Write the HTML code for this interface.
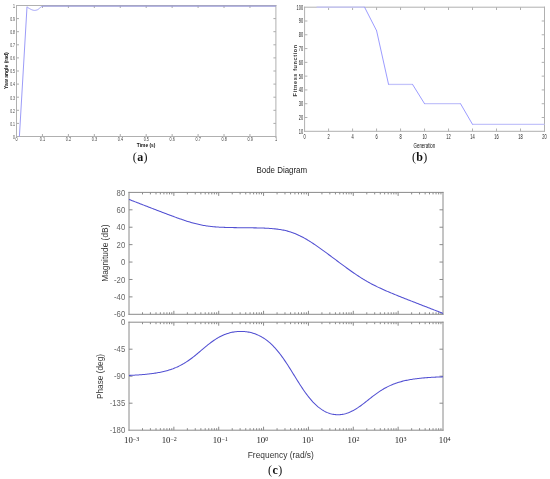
<!DOCTYPE html>
<html><head><meta charset="utf-8"><title>Figure</title>
<style>
html,body{margin:0;padding:0;background:#fff;}
body{width:550px;height:479px;overflow:hidden;}
svg{display:block;}
</style></head>
<body>
<svg width="550" height="479" viewBox="0 0 550 479">
<rect width="550" height="479" fill="#fff"/>
<line x1="16.00" y1="5.50" x2="276.40" y2="5.50" stroke="#b0b0b0" stroke-width="1"/>
<line x1="16.00" y1="136.50" x2="276.40" y2="136.50" stroke="#b0b0b0" stroke-width="1"/>
<line x1="16.50" y1="5.00" x2="16.50" y2="137.00" stroke="#b0b0b0" stroke-width="1"/>
<line x1="275.90" y1="5.00" x2="275.90" y2="137.00" stroke="#b0b0b0" stroke-width="1"/>
<line x1="42.44" y1="136.50" x2="42.44" y2="134.00" stroke="#ababab" stroke-width="1"/>
<line x1="42.44" y1="5.50" x2="42.44" y2="8.00" stroke="#ababab" stroke-width="1"/>
<line x1="16.50" y1="123.40" x2="19.00" y2="123.40" stroke="#ababab" stroke-width="1"/>
<line x1="275.90" y1="123.40" x2="273.40" y2="123.40" stroke="#ababab" stroke-width="1"/>
<line x1="68.38" y1="136.50" x2="68.38" y2="134.00" stroke="#ababab" stroke-width="1"/>
<line x1="68.38" y1="5.50" x2="68.38" y2="8.00" stroke="#ababab" stroke-width="1"/>
<line x1="16.50" y1="110.30" x2="19.00" y2="110.30" stroke="#ababab" stroke-width="1"/>
<line x1="275.90" y1="110.30" x2="273.40" y2="110.30" stroke="#ababab" stroke-width="1"/>
<line x1="94.32" y1="136.50" x2="94.32" y2="134.00" stroke="#ababab" stroke-width="1"/>
<line x1="94.32" y1="5.50" x2="94.32" y2="8.00" stroke="#ababab" stroke-width="1"/>
<line x1="16.50" y1="97.20" x2="19.00" y2="97.20" stroke="#ababab" stroke-width="1"/>
<line x1="275.90" y1="97.20" x2="273.40" y2="97.20" stroke="#ababab" stroke-width="1"/>
<line x1="120.26" y1="136.50" x2="120.26" y2="134.00" stroke="#ababab" stroke-width="1"/>
<line x1="120.26" y1="5.50" x2="120.26" y2="8.00" stroke="#ababab" stroke-width="1"/>
<line x1="16.50" y1="84.10" x2="19.00" y2="84.10" stroke="#ababab" stroke-width="1"/>
<line x1="275.90" y1="84.10" x2="273.40" y2="84.10" stroke="#ababab" stroke-width="1"/>
<line x1="146.20" y1="136.50" x2="146.20" y2="134.00" stroke="#ababab" stroke-width="1"/>
<line x1="146.20" y1="5.50" x2="146.20" y2="8.00" stroke="#ababab" stroke-width="1"/>
<line x1="16.50" y1="71.00" x2="19.00" y2="71.00" stroke="#ababab" stroke-width="1"/>
<line x1="275.90" y1="71.00" x2="273.40" y2="71.00" stroke="#ababab" stroke-width="1"/>
<line x1="172.14" y1="136.50" x2="172.14" y2="134.00" stroke="#ababab" stroke-width="1"/>
<line x1="172.14" y1="5.50" x2="172.14" y2="8.00" stroke="#ababab" stroke-width="1"/>
<line x1="16.50" y1="57.90" x2="19.00" y2="57.90" stroke="#ababab" stroke-width="1"/>
<line x1="275.90" y1="57.90" x2="273.40" y2="57.90" stroke="#ababab" stroke-width="1"/>
<line x1="198.08" y1="136.50" x2="198.08" y2="134.00" stroke="#ababab" stroke-width="1"/>
<line x1="198.08" y1="5.50" x2="198.08" y2="8.00" stroke="#ababab" stroke-width="1"/>
<line x1="16.50" y1="44.80" x2="19.00" y2="44.80" stroke="#ababab" stroke-width="1"/>
<line x1="275.90" y1="44.80" x2="273.40" y2="44.80" stroke="#ababab" stroke-width="1"/>
<line x1="224.02" y1="136.50" x2="224.02" y2="134.00" stroke="#ababab" stroke-width="1"/>
<line x1="224.02" y1="5.50" x2="224.02" y2="8.00" stroke="#ababab" stroke-width="1"/>
<line x1="16.50" y1="31.70" x2="19.00" y2="31.70" stroke="#ababab" stroke-width="1"/>
<line x1="275.90" y1="31.70" x2="273.40" y2="31.70" stroke="#ababab" stroke-width="1"/>
<line x1="249.96" y1="136.50" x2="249.96" y2="134.00" stroke="#ababab" stroke-width="1"/>
<line x1="249.96" y1="5.50" x2="249.96" y2="8.00" stroke="#ababab" stroke-width="1"/>
<line x1="16.50" y1="18.60" x2="19.00" y2="18.60" stroke="#ababab" stroke-width="1"/>
<line x1="275.90" y1="18.60" x2="273.40" y2="18.60" stroke="#ababab" stroke-width="1"/>
<g font-family="Liberation Sans, Arial, sans-serif" font-size="4.5" fill="#444">
<text transform="translate(15.0,138.8) scale(0.78,1)" text-anchor="end">0</text>
<text transform="translate(16.6,140.8) scale(0.85,1)" text-anchor="middle">0</text>
<text transform="translate(15.0,125.7) scale(0.78,1)" text-anchor="end">0.1</text>
<text transform="translate(42.5,140.8) scale(0.85,1)" text-anchor="middle">0.1</text>
<text transform="translate(15.0,112.6) scale(0.78,1)" text-anchor="end">0.2</text>
<text transform="translate(68.5,140.8) scale(0.85,1)" text-anchor="middle">0.2</text>
<text transform="translate(15.0,99.5) scale(0.78,1)" text-anchor="end">0.3</text>
<text transform="translate(94.4,140.8) scale(0.85,1)" text-anchor="middle">0.3</text>
<text transform="translate(15.0,86.4) scale(0.78,1)" text-anchor="end">0.4</text>
<text transform="translate(120.4,140.8) scale(0.85,1)" text-anchor="middle">0.4</text>
<text transform="translate(15.0,73.3) scale(0.78,1)" text-anchor="end">0.5</text>
<text transform="translate(146.3,140.8) scale(0.85,1)" text-anchor="middle">0.5</text>
<text transform="translate(15.0,60.2) scale(0.78,1)" text-anchor="end">0.6</text>
<text transform="translate(172.2,140.8) scale(0.85,1)" text-anchor="middle">0.6</text>
<text transform="translate(15.0,47.1) scale(0.78,1)" text-anchor="end">0.7</text>
<text transform="translate(198.2,140.8) scale(0.85,1)" text-anchor="middle">0.7</text>
<text transform="translate(15.0,34.0) scale(0.78,1)" text-anchor="end">0.8</text>
<text transform="translate(224.1,140.8) scale(0.85,1)" text-anchor="middle">0.8</text>
<text transform="translate(15.0,20.9) scale(0.78,1)" text-anchor="end">0.9</text>
<text transform="translate(250.1,140.8) scale(0.85,1)" text-anchor="middle">0.9</text>
<text transform="translate(15.0,7.8) scale(0.78,1)" text-anchor="end">1</text>
<text transform="translate(276.0,140.8) scale(0.85,1)" text-anchor="middle">1</text>
</g>
<text transform="translate(146.1,147) scale(0.9,1)" font-family="Liberation Sans, Arial, sans-serif" font-weight="bold" font-size="5.4" fill="#111" text-anchor="middle">Time (s)</text>
<text transform="translate(7.9,70.6) rotate(-90) scale(0.93,1)" font-family="Liberation Sans, Arial, sans-serif" font-weight="bold" font-size="5.4" fill="#111" text-anchor="middle">Yaw angle (rad)</text>
<polyline points="19.40,136.50 27.00,6.80 27.11,6.89 27.23,7.01 27.39,7.14 27.56,7.30 27.76,7.47 27.98,7.64 28.23,7.82 28.50,8.00 28.80,8.19 29.15,8.39 29.52,8.61 29.91,8.82 30.32,9.04 30.72,9.25 31.12,9.44 31.50,9.60 31.87,9.75 32.23,9.89 32.59,10.02 32.96,10.14 33.32,10.24 33.68,10.32 34.04,10.37 34.40,10.40 34.77,10.40 35.14,10.37 35.52,10.32 35.89,10.24 36.26,10.15 36.62,10.05 36.97,9.93 37.30,9.80 37.61,9.66 37.91,9.49 38.19,9.31 38.47,9.11 38.74,8.91 38.99,8.70 39.25,8.50 39.50,8.30 39.74,8.10 39.98,7.87 40.21,7.65 40.43,7.42 40.65,7.20 40.87,7.00 41.08,6.83 41.30,6.70 41.53,6.61 41.77,6.55 42.02,6.51 42.26,6.50 42.49,6.50 42.70,6.50 42.87,6.51 43.00,6.50" fill="none" stroke="#9c9cf8" stroke-width="1"/>
<line x1="43" y1="6.1" x2="275.90" y2="6.1" stroke="#9c9cd8" stroke-width="1.2"/>
<line x1="304.10" y1="7.20" x2="545.00" y2="7.20" stroke="#b0b0b0" stroke-width="1"/>
<line x1="304.10" y1="131.30" x2="545.00" y2="131.30" stroke="#b0b0b0" stroke-width="1"/>
<line x1="304.60" y1="6.70" x2="304.60" y2="131.80" stroke="#b0b0b0" stroke-width="1"/>
<line x1="544.50" y1="6.70" x2="544.50" y2="131.80" stroke="#b0b0b0" stroke-width="1"/>
<line x1="328.59" y1="131.30" x2="328.59" y2="128.50" stroke="#b0b0b0" stroke-width="1"/>
<line x1="328.59" y1="7.20" x2="328.59" y2="10.00" stroke="#b0b0b0" stroke-width="1"/>
<line x1="352.58" y1="131.30" x2="352.58" y2="128.50" stroke="#b0b0b0" stroke-width="1"/>
<line x1="352.58" y1="7.20" x2="352.58" y2="10.00" stroke="#b0b0b0" stroke-width="1"/>
<line x1="376.57" y1="131.30" x2="376.57" y2="128.50" stroke="#b0b0b0" stroke-width="1"/>
<line x1="376.57" y1="7.20" x2="376.57" y2="10.00" stroke="#b0b0b0" stroke-width="1"/>
<line x1="400.56" y1="131.30" x2="400.56" y2="128.50" stroke="#b0b0b0" stroke-width="1"/>
<line x1="400.56" y1="7.20" x2="400.56" y2="10.00" stroke="#b0b0b0" stroke-width="1"/>
<line x1="424.55" y1="131.30" x2="424.55" y2="128.50" stroke="#b0b0b0" stroke-width="1"/>
<line x1="424.55" y1="7.20" x2="424.55" y2="10.00" stroke="#b0b0b0" stroke-width="1"/>
<line x1="448.54" y1="131.30" x2="448.54" y2="128.50" stroke="#b0b0b0" stroke-width="1"/>
<line x1="448.54" y1="7.20" x2="448.54" y2="10.00" stroke="#b0b0b0" stroke-width="1"/>
<line x1="472.53" y1="131.30" x2="472.53" y2="128.50" stroke="#b0b0b0" stroke-width="1"/>
<line x1="472.53" y1="7.20" x2="472.53" y2="10.00" stroke="#b0b0b0" stroke-width="1"/>
<line x1="496.52" y1="131.30" x2="496.52" y2="128.50" stroke="#b0b0b0" stroke-width="1"/>
<line x1="496.52" y1="7.20" x2="496.52" y2="10.00" stroke="#b0b0b0" stroke-width="1"/>
<line x1="520.51" y1="131.30" x2="520.51" y2="128.50" stroke="#b0b0b0" stroke-width="1"/>
<line x1="520.51" y1="7.20" x2="520.51" y2="10.00" stroke="#b0b0b0" stroke-width="1"/>
<line x1="304.60" y1="117.51" x2="307.40" y2="117.51" stroke="#b0b0b0" stroke-width="1"/>
<line x1="544.50" y1="117.51" x2="541.70" y2="117.51" stroke="#b0b0b0" stroke-width="1"/>
<line x1="304.60" y1="103.72" x2="307.40" y2="103.72" stroke="#b0b0b0" stroke-width="1"/>
<line x1="544.50" y1="103.72" x2="541.70" y2="103.72" stroke="#b0b0b0" stroke-width="1"/>
<line x1="304.60" y1="89.93" x2="307.40" y2="89.93" stroke="#b0b0b0" stroke-width="1"/>
<line x1="544.50" y1="89.93" x2="541.70" y2="89.93" stroke="#b0b0b0" stroke-width="1"/>
<line x1="304.60" y1="76.14" x2="307.40" y2="76.14" stroke="#b0b0b0" stroke-width="1"/>
<line x1="544.50" y1="76.14" x2="541.70" y2="76.14" stroke="#b0b0b0" stroke-width="1"/>
<line x1="304.60" y1="62.36" x2="307.40" y2="62.36" stroke="#b0b0b0" stroke-width="1"/>
<line x1="544.50" y1="62.36" x2="541.70" y2="62.36" stroke="#b0b0b0" stroke-width="1"/>
<line x1="304.60" y1="48.57" x2="307.40" y2="48.57" stroke="#b0b0b0" stroke-width="1"/>
<line x1="544.50" y1="48.57" x2="541.70" y2="48.57" stroke="#b0b0b0" stroke-width="1"/>
<line x1="304.60" y1="34.78" x2="307.40" y2="34.78" stroke="#b0b0b0" stroke-width="1"/>
<line x1="544.50" y1="34.78" x2="541.70" y2="34.78" stroke="#b0b0b0" stroke-width="1"/>
<line x1="304.60" y1="20.99" x2="307.40" y2="20.99" stroke="#b0b0b0" stroke-width="1"/>
<line x1="544.50" y1="20.99" x2="541.70" y2="20.99" stroke="#b0b0b0" stroke-width="1"/>
<g font-family="Liberation Sans, Arial, sans-serif" font-size="6.6" fill="#222">
<text transform="translate(303.2,133.7) scale(0.6,1)" text-anchor="end">10</text>
<text transform="translate(303.2,119.9) scale(0.6,1)" text-anchor="end">20</text>
<text transform="translate(303.2,106.1) scale(0.6,1)" text-anchor="end">30</text>
<text transform="translate(303.2,92.3) scale(0.6,1)" text-anchor="end">40</text>
<text transform="translate(303.2,78.5) scale(0.6,1)" text-anchor="end">50</text>
<text transform="translate(303.2,64.8) scale(0.6,1)" text-anchor="end">60</text>
<text transform="translate(303.2,51.0) scale(0.6,1)" text-anchor="end">70</text>
<text transform="translate(303.2,37.2) scale(0.6,1)" text-anchor="end">80</text>
<text transform="translate(303.2,23.4) scale(0.6,1)" text-anchor="end">90</text>
<text transform="translate(303.2,9.6) scale(0.6,1)" text-anchor="end">100</text>
<text transform="translate(304.6,138.7) scale(0.6,1)" text-anchor="middle">0</text>
<text transform="translate(328.6,138.7) scale(0.6,1)" text-anchor="middle">2</text>
<text transform="translate(352.6,138.7) scale(0.6,1)" text-anchor="middle">4</text>
<text transform="translate(376.6,138.7) scale(0.6,1)" text-anchor="middle">6</text>
<text transform="translate(400.6,138.7) scale(0.6,1)" text-anchor="middle">8</text>
<text transform="translate(424.6,138.7) scale(0.6,1)" text-anchor="middle">10</text>
<text transform="translate(448.5,138.7) scale(0.6,1)" text-anchor="middle">12</text>
<text transform="translate(472.5,138.7) scale(0.6,1)" text-anchor="middle">14</text>
<text transform="translate(496.5,138.7) scale(0.6,1)" text-anchor="middle">16</text>
<text transform="translate(520.5,138.7) scale(0.6,1)" text-anchor="middle">18</text>
<text transform="translate(544.5,138.7) scale(0.6,1)" text-anchor="middle">20</text>
</g>
<text transform="translate(424.4,147.7) scale(0.555,1)" font-family="Liberation Sans, Arial, sans-serif" font-size="7.9" fill="#111" text-anchor="middle">Generation</text>
<text transform="translate(296.7,70.4) rotate(-90)" font-family="Liberation Sans, Arial, sans-serif" font-weight="bold" font-size="5.6" fill="#333" text-anchor="middle" letter-spacing="0.55">Fitness function</text>
<line x1="316.60" y1="7.20" x2="364.58" y2="7.20" stroke="#c4c4fa" stroke-width="1.3"/>
<line x1="388.56" y1="84.42" x2="412.56" y2="84.42" stroke="#c4c4fa" stroke-width="1.3"/>
<line x1="424.55" y1="103.72" x2="460.54" y2="103.72" stroke="#c4c4fa" stroke-width="1.3"/>
<line x1="472.53" y1="124.41" x2="544.50" y2="124.41" stroke="#c4c4fa" stroke-width="1.3"/>
<line x1="364.58" y1="7.20" x2="376.57" y2="30.64" stroke="#9c9cff" stroke-width="1" stroke-linecap="round"/>
<line x1="376.57" y1="30.64" x2="388.56" y2="84.42" stroke="#9c9cff" stroke-width="1" stroke-linecap="round"/>
<line x1="412.56" y1="84.42" x2="424.55" y2="103.72" stroke="#9c9cff" stroke-width="1" stroke-linecap="round"/>
<line x1="460.54" y1="103.72" x2="472.53" y2="124.41" stroke="#9c9cff" stroke-width="1" stroke-linecap="round"/>
<line x1="128.50" y1="192.40" x2="443.50" y2="192.40" stroke="#8a8a8a" stroke-width="1"/>
<line x1="128.50" y1="314.30" x2="443.50" y2="314.30" stroke="#8a8a8a" stroke-width="1"/>
<line x1="129.00" y1="191.90" x2="129.00" y2="314.80" stroke="#8a8a8a" stroke-width="1"/>
<line x1="443.00" y1="191.90" x2="443.00" y2="314.80" stroke="#8a8a8a" stroke-width="1"/>
<line x1="142.50" y1="314.30" x2="142.50" y2="312.30" stroke="#8a8a8a" stroke-width="1"/>
<line x1="142.50" y1="192.40" x2="142.50" y2="194.40" stroke="#8a8a8a" stroke-width="1"/>
<line x1="150.40" y1="314.30" x2="150.40" y2="312.30" stroke="#8a8a8a" stroke-width="1"/>
<line x1="150.40" y1="192.40" x2="150.40" y2="194.40" stroke="#8a8a8a" stroke-width="1"/>
<line x1="156.01" y1="314.30" x2="156.01" y2="312.30" stroke="#8a8a8a" stroke-width="1"/>
<line x1="156.01" y1="192.40" x2="156.01" y2="194.40" stroke="#8a8a8a" stroke-width="1"/>
<line x1="160.35" y1="314.30" x2="160.35" y2="312.30" stroke="#8a8a8a" stroke-width="1"/>
<line x1="160.35" y1="192.40" x2="160.35" y2="194.40" stroke="#8a8a8a" stroke-width="1"/>
<line x1="163.91" y1="314.30" x2="163.91" y2="312.30" stroke="#8a8a8a" stroke-width="1"/>
<line x1="163.91" y1="192.40" x2="163.91" y2="194.40" stroke="#8a8a8a" stroke-width="1"/>
<line x1="166.91" y1="314.30" x2="166.91" y2="312.30" stroke="#8a8a8a" stroke-width="1"/>
<line x1="166.91" y1="192.40" x2="166.91" y2="194.40" stroke="#8a8a8a" stroke-width="1"/>
<line x1="169.51" y1="314.30" x2="169.51" y2="312.30" stroke="#8a8a8a" stroke-width="1"/>
<line x1="169.51" y1="192.40" x2="169.51" y2="194.40" stroke="#8a8a8a" stroke-width="1"/>
<line x1="171.80" y1="314.30" x2="171.80" y2="312.30" stroke="#8a8a8a" stroke-width="1"/>
<line x1="171.80" y1="192.40" x2="171.80" y2="194.40" stroke="#8a8a8a" stroke-width="1"/>
<line x1="173.86" y1="314.30" x2="173.86" y2="310.80" stroke="#8a8a8a" stroke-width="1"/>
<line x1="173.86" y1="192.40" x2="173.86" y2="195.90" stroke="#8a8a8a" stroke-width="1"/>
<line x1="187.36" y1="314.30" x2="187.36" y2="312.30" stroke="#8a8a8a" stroke-width="1"/>
<line x1="187.36" y1="192.40" x2="187.36" y2="194.40" stroke="#8a8a8a" stroke-width="1"/>
<line x1="195.26" y1="314.30" x2="195.26" y2="312.30" stroke="#8a8a8a" stroke-width="1"/>
<line x1="195.26" y1="192.40" x2="195.26" y2="194.40" stroke="#8a8a8a" stroke-width="1"/>
<line x1="200.86" y1="314.30" x2="200.86" y2="312.30" stroke="#8a8a8a" stroke-width="1"/>
<line x1="200.86" y1="192.40" x2="200.86" y2="194.40" stroke="#8a8a8a" stroke-width="1"/>
<line x1="205.21" y1="314.30" x2="205.21" y2="312.30" stroke="#8a8a8a" stroke-width="1"/>
<line x1="205.21" y1="192.40" x2="205.21" y2="194.40" stroke="#8a8a8a" stroke-width="1"/>
<line x1="208.76" y1="314.30" x2="208.76" y2="312.30" stroke="#8a8a8a" stroke-width="1"/>
<line x1="208.76" y1="192.40" x2="208.76" y2="194.40" stroke="#8a8a8a" stroke-width="1"/>
<line x1="211.77" y1="314.30" x2="211.77" y2="312.30" stroke="#8a8a8a" stroke-width="1"/>
<line x1="211.77" y1="192.40" x2="211.77" y2="194.40" stroke="#8a8a8a" stroke-width="1"/>
<line x1="214.37" y1="314.30" x2="214.37" y2="312.30" stroke="#8a8a8a" stroke-width="1"/>
<line x1="214.37" y1="192.40" x2="214.37" y2="194.40" stroke="#8a8a8a" stroke-width="1"/>
<line x1="216.66" y1="314.30" x2="216.66" y2="312.30" stroke="#8a8a8a" stroke-width="1"/>
<line x1="216.66" y1="192.40" x2="216.66" y2="194.40" stroke="#8a8a8a" stroke-width="1"/>
<line x1="218.71" y1="314.30" x2="218.71" y2="310.80" stroke="#8a8a8a" stroke-width="1"/>
<line x1="218.71" y1="192.40" x2="218.71" y2="195.90" stroke="#8a8a8a" stroke-width="1"/>
<line x1="232.22" y1="314.30" x2="232.22" y2="312.30" stroke="#8a8a8a" stroke-width="1"/>
<line x1="232.22" y1="192.40" x2="232.22" y2="194.40" stroke="#8a8a8a" stroke-width="1"/>
<line x1="240.12" y1="314.30" x2="240.12" y2="312.30" stroke="#8a8a8a" stroke-width="1"/>
<line x1="240.12" y1="192.40" x2="240.12" y2="194.40" stroke="#8a8a8a" stroke-width="1"/>
<line x1="245.72" y1="314.30" x2="245.72" y2="312.30" stroke="#8a8a8a" stroke-width="1"/>
<line x1="245.72" y1="192.40" x2="245.72" y2="194.40" stroke="#8a8a8a" stroke-width="1"/>
<line x1="250.07" y1="314.30" x2="250.07" y2="312.30" stroke="#8a8a8a" stroke-width="1"/>
<line x1="250.07" y1="192.40" x2="250.07" y2="194.40" stroke="#8a8a8a" stroke-width="1"/>
<line x1="253.62" y1="314.30" x2="253.62" y2="312.30" stroke="#8a8a8a" stroke-width="1"/>
<line x1="253.62" y1="192.40" x2="253.62" y2="194.40" stroke="#8a8a8a" stroke-width="1"/>
<line x1="256.62" y1="314.30" x2="256.62" y2="312.30" stroke="#8a8a8a" stroke-width="1"/>
<line x1="256.62" y1="192.40" x2="256.62" y2="194.40" stroke="#8a8a8a" stroke-width="1"/>
<line x1="259.22" y1="314.30" x2="259.22" y2="312.30" stroke="#8a8a8a" stroke-width="1"/>
<line x1="259.22" y1="192.40" x2="259.22" y2="194.40" stroke="#8a8a8a" stroke-width="1"/>
<line x1="261.52" y1="314.30" x2="261.52" y2="312.30" stroke="#8a8a8a" stroke-width="1"/>
<line x1="261.52" y1="192.40" x2="261.52" y2="194.40" stroke="#8a8a8a" stroke-width="1"/>
<line x1="263.57" y1="314.30" x2="263.57" y2="310.80" stroke="#8a8a8a" stroke-width="1"/>
<line x1="263.57" y1="192.40" x2="263.57" y2="195.90" stroke="#8a8a8a" stroke-width="1"/>
<line x1="277.07" y1="314.30" x2="277.07" y2="312.30" stroke="#8a8a8a" stroke-width="1"/>
<line x1="277.07" y1="192.40" x2="277.07" y2="194.40" stroke="#8a8a8a" stroke-width="1"/>
<line x1="284.97" y1="314.30" x2="284.97" y2="312.30" stroke="#8a8a8a" stroke-width="1"/>
<line x1="284.97" y1="192.40" x2="284.97" y2="194.40" stroke="#8a8a8a" stroke-width="1"/>
<line x1="290.58" y1="314.30" x2="290.58" y2="312.30" stroke="#8a8a8a" stroke-width="1"/>
<line x1="290.58" y1="192.40" x2="290.58" y2="194.40" stroke="#8a8a8a" stroke-width="1"/>
<line x1="294.93" y1="314.30" x2="294.93" y2="312.30" stroke="#8a8a8a" stroke-width="1"/>
<line x1="294.93" y1="192.40" x2="294.93" y2="194.40" stroke="#8a8a8a" stroke-width="1"/>
<line x1="298.48" y1="314.30" x2="298.48" y2="312.30" stroke="#8a8a8a" stroke-width="1"/>
<line x1="298.48" y1="192.40" x2="298.48" y2="194.40" stroke="#8a8a8a" stroke-width="1"/>
<line x1="301.48" y1="314.30" x2="301.48" y2="312.30" stroke="#8a8a8a" stroke-width="1"/>
<line x1="301.48" y1="192.40" x2="301.48" y2="194.40" stroke="#8a8a8a" stroke-width="1"/>
<line x1="304.08" y1="314.30" x2="304.08" y2="312.30" stroke="#8a8a8a" stroke-width="1"/>
<line x1="304.08" y1="192.40" x2="304.08" y2="194.40" stroke="#8a8a8a" stroke-width="1"/>
<line x1="306.38" y1="314.30" x2="306.38" y2="312.30" stroke="#8a8a8a" stroke-width="1"/>
<line x1="306.38" y1="192.40" x2="306.38" y2="194.40" stroke="#8a8a8a" stroke-width="1"/>
<line x1="308.43" y1="314.30" x2="308.43" y2="310.80" stroke="#8a8a8a" stroke-width="1"/>
<line x1="308.43" y1="192.40" x2="308.43" y2="195.90" stroke="#8a8a8a" stroke-width="1"/>
<line x1="321.93" y1="314.30" x2="321.93" y2="312.30" stroke="#8a8a8a" stroke-width="1"/>
<line x1="321.93" y1="192.40" x2="321.93" y2="194.40" stroke="#8a8a8a" stroke-width="1"/>
<line x1="329.83" y1="314.30" x2="329.83" y2="312.30" stroke="#8a8a8a" stroke-width="1"/>
<line x1="329.83" y1="192.40" x2="329.83" y2="194.40" stroke="#8a8a8a" stroke-width="1"/>
<line x1="335.44" y1="314.30" x2="335.44" y2="312.30" stroke="#8a8a8a" stroke-width="1"/>
<line x1="335.44" y1="192.40" x2="335.44" y2="194.40" stroke="#8a8a8a" stroke-width="1"/>
<line x1="339.78" y1="314.30" x2="339.78" y2="312.30" stroke="#8a8a8a" stroke-width="1"/>
<line x1="339.78" y1="192.40" x2="339.78" y2="194.40" stroke="#8a8a8a" stroke-width="1"/>
<line x1="343.33" y1="314.30" x2="343.33" y2="312.30" stroke="#8a8a8a" stroke-width="1"/>
<line x1="343.33" y1="192.40" x2="343.33" y2="194.40" stroke="#8a8a8a" stroke-width="1"/>
<line x1="346.34" y1="314.30" x2="346.34" y2="312.30" stroke="#8a8a8a" stroke-width="1"/>
<line x1="346.34" y1="192.40" x2="346.34" y2="194.40" stroke="#8a8a8a" stroke-width="1"/>
<line x1="348.94" y1="314.30" x2="348.94" y2="312.30" stroke="#8a8a8a" stroke-width="1"/>
<line x1="348.94" y1="192.40" x2="348.94" y2="194.40" stroke="#8a8a8a" stroke-width="1"/>
<line x1="351.23" y1="314.30" x2="351.23" y2="312.30" stroke="#8a8a8a" stroke-width="1"/>
<line x1="351.23" y1="192.40" x2="351.23" y2="194.40" stroke="#8a8a8a" stroke-width="1"/>
<line x1="353.29" y1="314.30" x2="353.29" y2="310.80" stroke="#8a8a8a" stroke-width="1"/>
<line x1="353.29" y1="192.40" x2="353.29" y2="195.90" stroke="#8a8a8a" stroke-width="1"/>
<line x1="366.79" y1="314.30" x2="366.79" y2="312.30" stroke="#8a8a8a" stroke-width="1"/>
<line x1="366.79" y1="192.40" x2="366.79" y2="194.40" stroke="#8a8a8a" stroke-width="1"/>
<line x1="374.69" y1="314.30" x2="374.69" y2="312.30" stroke="#8a8a8a" stroke-width="1"/>
<line x1="374.69" y1="192.40" x2="374.69" y2="194.40" stroke="#8a8a8a" stroke-width="1"/>
<line x1="380.29" y1="314.30" x2="380.29" y2="312.30" stroke="#8a8a8a" stroke-width="1"/>
<line x1="380.29" y1="192.40" x2="380.29" y2="194.40" stroke="#8a8a8a" stroke-width="1"/>
<line x1="384.64" y1="314.30" x2="384.64" y2="312.30" stroke="#8a8a8a" stroke-width="1"/>
<line x1="384.64" y1="192.40" x2="384.64" y2="194.40" stroke="#8a8a8a" stroke-width="1"/>
<line x1="388.19" y1="314.30" x2="388.19" y2="312.30" stroke="#8a8a8a" stroke-width="1"/>
<line x1="388.19" y1="192.40" x2="388.19" y2="194.40" stroke="#8a8a8a" stroke-width="1"/>
<line x1="391.19" y1="314.30" x2="391.19" y2="312.30" stroke="#8a8a8a" stroke-width="1"/>
<line x1="391.19" y1="192.40" x2="391.19" y2="194.40" stroke="#8a8a8a" stroke-width="1"/>
<line x1="393.80" y1="314.30" x2="393.80" y2="312.30" stroke="#8a8a8a" stroke-width="1"/>
<line x1="393.80" y1="192.40" x2="393.80" y2="194.40" stroke="#8a8a8a" stroke-width="1"/>
<line x1="396.09" y1="314.30" x2="396.09" y2="312.30" stroke="#8a8a8a" stroke-width="1"/>
<line x1="396.09" y1="192.40" x2="396.09" y2="194.40" stroke="#8a8a8a" stroke-width="1"/>
<line x1="398.14" y1="314.30" x2="398.14" y2="310.80" stroke="#8a8a8a" stroke-width="1"/>
<line x1="398.14" y1="192.40" x2="398.14" y2="195.90" stroke="#8a8a8a" stroke-width="1"/>
<line x1="411.65" y1="314.30" x2="411.65" y2="312.30" stroke="#8a8a8a" stroke-width="1"/>
<line x1="411.65" y1="192.40" x2="411.65" y2="194.40" stroke="#8a8a8a" stroke-width="1"/>
<line x1="419.55" y1="314.30" x2="419.55" y2="312.30" stroke="#8a8a8a" stroke-width="1"/>
<line x1="419.55" y1="192.40" x2="419.55" y2="194.40" stroke="#8a8a8a" stroke-width="1"/>
<line x1="425.15" y1="314.30" x2="425.15" y2="312.30" stroke="#8a8a8a" stroke-width="1"/>
<line x1="425.15" y1="192.40" x2="425.15" y2="194.40" stroke="#8a8a8a" stroke-width="1"/>
<line x1="429.50" y1="314.30" x2="429.50" y2="312.30" stroke="#8a8a8a" stroke-width="1"/>
<line x1="429.50" y1="192.40" x2="429.50" y2="194.40" stroke="#8a8a8a" stroke-width="1"/>
<line x1="433.05" y1="314.30" x2="433.05" y2="312.30" stroke="#8a8a8a" stroke-width="1"/>
<line x1="433.05" y1="192.40" x2="433.05" y2="194.40" stroke="#8a8a8a" stroke-width="1"/>
<line x1="436.05" y1="314.30" x2="436.05" y2="312.30" stroke="#8a8a8a" stroke-width="1"/>
<line x1="436.05" y1="192.40" x2="436.05" y2="194.40" stroke="#8a8a8a" stroke-width="1"/>
<line x1="438.65" y1="314.30" x2="438.65" y2="312.30" stroke="#8a8a8a" stroke-width="1"/>
<line x1="438.65" y1="192.40" x2="438.65" y2="194.40" stroke="#8a8a8a" stroke-width="1"/>
<line x1="440.95" y1="314.30" x2="440.95" y2="312.30" stroke="#8a8a8a" stroke-width="1"/>
<line x1="440.95" y1="192.40" x2="440.95" y2="194.40" stroke="#8a8a8a" stroke-width="1"/>
<line x1="128.50" y1="322.20" x2="443.50" y2="322.20" stroke="#8a8a8a" stroke-width="1"/>
<line x1="128.50" y1="430.20" x2="443.50" y2="430.20" stroke="#8a8a8a" stroke-width="1"/>
<line x1="129.00" y1="321.70" x2="129.00" y2="430.70" stroke="#8a8a8a" stroke-width="1"/>
<line x1="443.00" y1="321.70" x2="443.00" y2="430.70" stroke="#8a8a8a" stroke-width="1"/>
<line x1="142.50" y1="430.20" x2="142.50" y2="428.20" stroke="#8a8a8a" stroke-width="1"/>
<line x1="142.50" y1="322.20" x2="142.50" y2="324.20" stroke="#8a8a8a" stroke-width="1"/>
<line x1="150.40" y1="430.20" x2="150.40" y2="428.20" stroke="#8a8a8a" stroke-width="1"/>
<line x1="150.40" y1="322.20" x2="150.40" y2="324.20" stroke="#8a8a8a" stroke-width="1"/>
<line x1="156.01" y1="430.20" x2="156.01" y2="428.20" stroke="#8a8a8a" stroke-width="1"/>
<line x1="156.01" y1="322.20" x2="156.01" y2="324.20" stroke="#8a8a8a" stroke-width="1"/>
<line x1="160.35" y1="430.20" x2="160.35" y2="428.20" stroke="#8a8a8a" stroke-width="1"/>
<line x1="160.35" y1="322.20" x2="160.35" y2="324.20" stroke="#8a8a8a" stroke-width="1"/>
<line x1="163.91" y1="430.20" x2="163.91" y2="428.20" stroke="#8a8a8a" stroke-width="1"/>
<line x1="163.91" y1="322.20" x2="163.91" y2="324.20" stroke="#8a8a8a" stroke-width="1"/>
<line x1="166.91" y1="430.20" x2="166.91" y2="428.20" stroke="#8a8a8a" stroke-width="1"/>
<line x1="166.91" y1="322.20" x2="166.91" y2="324.20" stroke="#8a8a8a" stroke-width="1"/>
<line x1="169.51" y1="430.20" x2="169.51" y2="428.20" stroke="#8a8a8a" stroke-width="1"/>
<line x1="169.51" y1="322.20" x2="169.51" y2="324.20" stroke="#8a8a8a" stroke-width="1"/>
<line x1="171.80" y1="430.20" x2="171.80" y2="428.20" stroke="#8a8a8a" stroke-width="1"/>
<line x1="171.80" y1="322.20" x2="171.80" y2="324.20" stroke="#8a8a8a" stroke-width="1"/>
<line x1="173.86" y1="430.20" x2="173.86" y2="426.70" stroke="#8a8a8a" stroke-width="1"/>
<line x1="173.86" y1="322.20" x2="173.86" y2="325.70" stroke="#8a8a8a" stroke-width="1"/>
<line x1="187.36" y1="430.20" x2="187.36" y2="428.20" stroke="#8a8a8a" stroke-width="1"/>
<line x1="187.36" y1="322.20" x2="187.36" y2="324.20" stroke="#8a8a8a" stroke-width="1"/>
<line x1="195.26" y1="430.20" x2="195.26" y2="428.20" stroke="#8a8a8a" stroke-width="1"/>
<line x1="195.26" y1="322.20" x2="195.26" y2="324.20" stroke="#8a8a8a" stroke-width="1"/>
<line x1="200.86" y1="430.20" x2="200.86" y2="428.20" stroke="#8a8a8a" stroke-width="1"/>
<line x1="200.86" y1="322.20" x2="200.86" y2="324.20" stroke="#8a8a8a" stroke-width="1"/>
<line x1="205.21" y1="430.20" x2="205.21" y2="428.20" stroke="#8a8a8a" stroke-width="1"/>
<line x1="205.21" y1="322.20" x2="205.21" y2="324.20" stroke="#8a8a8a" stroke-width="1"/>
<line x1="208.76" y1="430.20" x2="208.76" y2="428.20" stroke="#8a8a8a" stroke-width="1"/>
<line x1="208.76" y1="322.20" x2="208.76" y2="324.20" stroke="#8a8a8a" stroke-width="1"/>
<line x1="211.77" y1="430.20" x2="211.77" y2="428.20" stroke="#8a8a8a" stroke-width="1"/>
<line x1="211.77" y1="322.20" x2="211.77" y2="324.20" stroke="#8a8a8a" stroke-width="1"/>
<line x1="214.37" y1="430.20" x2="214.37" y2="428.20" stroke="#8a8a8a" stroke-width="1"/>
<line x1="214.37" y1="322.20" x2="214.37" y2="324.20" stroke="#8a8a8a" stroke-width="1"/>
<line x1="216.66" y1="430.20" x2="216.66" y2="428.20" stroke="#8a8a8a" stroke-width="1"/>
<line x1="216.66" y1="322.20" x2="216.66" y2="324.20" stroke="#8a8a8a" stroke-width="1"/>
<line x1="218.71" y1="430.20" x2="218.71" y2="426.70" stroke="#8a8a8a" stroke-width="1"/>
<line x1="218.71" y1="322.20" x2="218.71" y2="325.70" stroke="#8a8a8a" stroke-width="1"/>
<line x1="232.22" y1="430.20" x2="232.22" y2="428.20" stroke="#8a8a8a" stroke-width="1"/>
<line x1="232.22" y1="322.20" x2="232.22" y2="324.20" stroke="#8a8a8a" stroke-width="1"/>
<line x1="240.12" y1="430.20" x2="240.12" y2="428.20" stroke="#8a8a8a" stroke-width="1"/>
<line x1="240.12" y1="322.20" x2="240.12" y2="324.20" stroke="#8a8a8a" stroke-width="1"/>
<line x1="245.72" y1="430.20" x2="245.72" y2="428.20" stroke="#8a8a8a" stroke-width="1"/>
<line x1="245.72" y1="322.20" x2="245.72" y2="324.20" stroke="#8a8a8a" stroke-width="1"/>
<line x1="250.07" y1="430.20" x2="250.07" y2="428.20" stroke="#8a8a8a" stroke-width="1"/>
<line x1="250.07" y1="322.20" x2="250.07" y2="324.20" stroke="#8a8a8a" stroke-width="1"/>
<line x1="253.62" y1="430.20" x2="253.62" y2="428.20" stroke="#8a8a8a" stroke-width="1"/>
<line x1="253.62" y1="322.20" x2="253.62" y2="324.20" stroke="#8a8a8a" stroke-width="1"/>
<line x1="256.62" y1="430.20" x2="256.62" y2="428.20" stroke="#8a8a8a" stroke-width="1"/>
<line x1="256.62" y1="322.20" x2="256.62" y2="324.20" stroke="#8a8a8a" stroke-width="1"/>
<line x1="259.22" y1="430.20" x2="259.22" y2="428.20" stroke="#8a8a8a" stroke-width="1"/>
<line x1="259.22" y1="322.20" x2="259.22" y2="324.20" stroke="#8a8a8a" stroke-width="1"/>
<line x1="261.52" y1="430.20" x2="261.52" y2="428.20" stroke="#8a8a8a" stroke-width="1"/>
<line x1="261.52" y1="322.20" x2="261.52" y2="324.20" stroke="#8a8a8a" stroke-width="1"/>
<line x1="263.57" y1="430.20" x2="263.57" y2="426.70" stroke="#8a8a8a" stroke-width="1"/>
<line x1="263.57" y1="322.20" x2="263.57" y2="325.70" stroke="#8a8a8a" stroke-width="1"/>
<line x1="277.07" y1="430.20" x2="277.07" y2="428.20" stroke="#8a8a8a" stroke-width="1"/>
<line x1="277.07" y1="322.20" x2="277.07" y2="324.20" stroke="#8a8a8a" stroke-width="1"/>
<line x1="284.97" y1="430.20" x2="284.97" y2="428.20" stroke="#8a8a8a" stroke-width="1"/>
<line x1="284.97" y1="322.20" x2="284.97" y2="324.20" stroke="#8a8a8a" stroke-width="1"/>
<line x1="290.58" y1="430.20" x2="290.58" y2="428.20" stroke="#8a8a8a" stroke-width="1"/>
<line x1="290.58" y1="322.20" x2="290.58" y2="324.20" stroke="#8a8a8a" stroke-width="1"/>
<line x1="294.93" y1="430.20" x2="294.93" y2="428.20" stroke="#8a8a8a" stroke-width="1"/>
<line x1="294.93" y1="322.20" x2="294.93" y2="324.20" stroke="#8a8a8a" stroke-width="1"/>
<line x1="298.48" y1="430.20" x2="298.48" y2="428.20" stroke="#8a8a8a" stroke-width="1"/>
<line x1="298.48" y1="322.20" x2="298.48" y2="324.20" stroke="#8a8a8a" stroke-width="1"/>
<line x1="301.48" y1="430.20" x2="301.48" y2="428.20" stroke="#8a8a8a" stroke-width="1"/>
<line x1="301.48" y1="322.20" x2="301.48" y2="324.20" stroke="#8a8a8a" stroke-width="1"/>
<line x1="304.08" y1="430.20" x2="304.08" y2="428.20" stroke="#8a8a8a" stroke-width="1"/>
<line x1="304.08" y1="322.20" x2="304.08" y2="324.20" stroke="#8a8a8a" stroke-width="1"/>
<line x1="306.38" y1="430.20" x2="306.38" y2="428.20" stroke="#8a8a8a" stroke-width="1"/>
<line x1="306.38" y1="322.20" x2="306.38" y2="324.20" stroke="#8a8a8a" stroke-width="1"/>
<line x1="308.43" y1="430.20" x2="308.43" y2="426.70" stroke="#8a8a8a" stroke-width="1"/>
<line x1="308.43" y1="322.20" x2="308.43" y2="325.70" stroke="#8a8a8a" stroke-width="1"/>
<line x1="321.93" y1="430.20" x2="321.93" y2="428.20" stroke="#8a8a8a" stroke-width="1"/>
<line x1="321.93" y1="322.20" x2="321.93" y2="324.20" stroke="#8a8a8a" stroke-width="1"/>
<line x1="329.83" y1="430.20" x2="329.83" y2="428.20" stroke="#8a8a8a" stroke-width="1"/>
<line x1="329.83" y1="322.20" x2="329.83" y2="324.20" stroke="#8a8a8a" stroke-width="1"/>
<line x1="335.44" y1="430.20" x2="335.44" y2="428.20" stroke="#8a8a8a" stroke-width="1"/>
<line x1="335.44" y1="322.20" x2="335.44" y2="324.20" stroke="#8a8a8a" stroke-width="1"/>
<line x1="339.78" y1="430.20" x2="339.78" y2="428.20" stroke="#8a8a8a" stroke-width="1"/>
<line x1="339.78" y1="322.20" x2="339.78" y2="324.20" stroke="#8a8a8a" stroke-width="1"/>
<line x1="343.33" y1="430.20" x2="343.33" y2="428.20" stroke="#8a8a8a" stroke-width="1"/>
<line x1="343.33" y1="322.20" x2="343.33" y2="324.20" stroke="#8a8a8a" stroke-width="1"/>
<line x1="346.34" y1="430.20" x2="346.34" y2="428.20" stroke="#8a8a8a" stroke-width="1"/>
<line x1="346.34" y1="322.20" x2="346.34" y2="324.20" stroke="#8a8a8a" stroke-width="1"/>
<line x1="348.94" y1="430.20" x2="348.94" y2="428.20" stroke="#8a8a8a" stroke-width="1"/>
<line x1="348.94" y1="322.20" x2="348.94" y2="324.20" stroke="#8a8a8a" stroke-width="1"/>
<line x1="351.23" y1="430.20" x2="351.23" y2="428.20" stroke="#8a8a8a" stroke-width="1"/>
<line x1="351.23" y1="322.20" x2="351.23" y2="324.20" stroke="#8a8a8a" stroke-width="1"/>
<line x1="353.29" y1="430.20" x2="353.29" y2="426.70" stroke="#8a8a8a" stroke-width="1"/>
<line x1="353.29" y1="322.20" x2="353.29" y2="325.70" stroke="#8a8a8a" stroke-width="1"/>
<line x1="366.79" y1="430.20" x2="366.79" y2="428.20" stroke="#8a8a8a" stroke-width="1"/>
<line x1="366.79" y1="322.20" x2="366.79" y2="324.20" stroke="#8a8a8a" stroke-width="1"/>
<line x1="374.69" y1="430.20" x2="374.69" y2="428.20" stroke="#8a8a8a" stroke-width="1"/>
<line x1="374.69" y1="322.20" x2="374.69" y2="324.20" stroke="#8a8a8a" stroke-width="1"/>
<line x1="380.29" y1="430.20" x2="380.29" y2="428.20" stroke="#8a8a8a" stroke-width="1"/>
<line x1="380.29" y1="322.20" x2="380.29" y2="324.20" stroke="#8a8a8a" stroke-width="1"/>
<line x1="384.64" y1="430.20" x2="384.64" y2="428.20" stroke="#8a8a8a" stroke-width="1"/>
<line x1="384.64" y1="322.20" x2="384.64" y2="324.20" stroke="#8a8a8a" stroke-width="1"/>
<line x1="388.19" y1="430.20" x2="388.19" y2="428.20" stroke="#8a8a8a" stroke-width="1"/>
<line x1="388.19" y1="322.20" x2="388.19" y2="324.20" stroke="#8a8a8a" stroke-width="1"/>
<line x1="391.19" y1="430.20" x2="391.19" y2="428.20" stroke="#8a8a8a" stroke-width="1"/>
<line x1="391.19" y1="322.20" x2="391.19" y2="324.20" stroke="#8a8a8a" stroke-width="1"/>
<line x1="393.80" y1="430.20" x2="393.80" y2="428.20" stroke="#8a8a8a" stroke-width="1"/>
<line x1="393.80" y1="322.20" x2="393.80" y2="324.20" stroke="#8a8a8a" stroke-width="1"/>
<line x1="396.09" y1="430.20" x2="396.09" y2="428.20" stroke="#8a8a8a" stroke-width="1"/>
<line x1="396.09" y1="322.20" x2="396.09" y2="324.20" stroke="#8a8a8a" stroke-width="1"/>
<line x1="398.14" y1="430.20" x2="398.14" y2="426.70" stroke="#8a8a8a" stroke-width="1"/>
<line x1="398.14" y1="322.20" x2="398.14" y2="325.70" stroke="#8a8a8a" stroke-width="1"/>
<line x1="411.65" y1="430.20" x2="411.65" y2="428.20" stroke="#8a8a8a" stroke-width="1"/>
<line x1="411.65" y1="322.20" x2="411.65" y2="324.20" stroke="#8a8a8a" stroke-width="1"/>
<line x1="419.55" y1="430.20" x2="419.55" y2="428.20" stroke="#8a8a8a" stroke-width="1"/>
<line x1="419.55" y1="322.20" x2="419.55" y2="324.20" stroke="#8a8a8a" stroke-width="1"/>
<line x1="425.15" y1="430.20" x2="425.15" y2="428.20" stroke="#8a8a8a" stroke-width="1"/>
<line x1="425.15" y1="322.20" x2="425.15" y2="324.20" stroke="#8a8a8a" stroke-width="1"/>
<line x1="429.50" y1="430.20" x2="429.50" y2="428.20" stroke="#8a8a8a" stroke-width="1"/>
<line x1="429.50" y1="322.20" x2="429.50" y2="324.20" stroke="#8a8a8a" stroke-width="1"/>
<line x1="433.05" y1="430.20" x2="433.05" y2="428.20" stroke="#8a8a8a" stroke-width="1"/>
<line x1="433.05" y1="322.20" x2="433.05" y2="324.20" stroke="#8a8a8a" stroke-width="1"/>
<line x1="436.05" y1="430.20" x2="436.05" y2="428.20" stroke="#8a8a8a" stroke-width="1"/>
<line x1="436.05" y1="322.20" x2="436.05" y2="324.20" stroke="#8a8a8a" stroke-width="1"/>
<line x1="438.65" y1="430.20" x2="438.65" y2="428.20" stroke="#8a8a8a" stroke-width="1"/>
<line x1="438.65" y1="322.20" x2="438.65" y2="324.20" stroke="#8a8a8a" stroke-width="1"/>
<line x1="440.95" y1="430.20" x2="440.95" y2="428.20" stroke="#8a8a8a" stroke-width="1"/>
<line x1="440.95" y1="322.20" x2="440.95" y2="324.20" stroke="#8a8a8a" stroke-width="1"/>
<line x1="129.00" y1="296.89" x2="132.50" y2="296.89" stroke="#8a8a8a" stroke-width="1"/>
<line x1="443.00" y1="296.89" x2="439.50" y2="296.89" stroke="#8a8a8a" stroke-width="1"/>
<line x1="129.00" y1="279.47" x2="132.50" y2="279.47" stroke="#8a8a8a" stroke-width="1"/>
<line x1="443.00" y1="279.47" x2="439.50" y2="279.47" stroke="#8a8a8a" stroke-width="1"/>
<line x1="129.00" y1="262.06" x2="132.50" y2="262.06" stroke="#8a8a8a" stroke-width="1"/>
<line x1="443.00" y1="262.06" x2="439.50" y2="262.06" stroke="#8a8a8a" stroke-width="1"/>
<line x1="129.00" y1="244.64" x2="132.50" y2="244.64" stroke="#8a8a8a" stroke-width="1"/>
<line x1="443.00" y1="244.64" x2="439.50" y2="244.64" stroke="#8a8a8a" stroke-width="1"/>
<line x1="129.00" y1="227.23" x2="132.50" y2="227.23" stroke="#8a8a8a" stroke-width="1"/>
<line x1="443.00" y1="227.23" x2="439.50" y2="227.23" stroke="#8a8a8a" stroke-width="1"/>
<line x1="129.00" y1="209.81" x2="132.50" y2="209.81" stroke="#8a8a8a" stroke-width="1"/>
<line x1="443.00" y1="209.81" x2="439.50" y2="209.81" stroke="#8a8a8a" stroke-width="1"/>
<line x1="129.00" y1="349.20" x2="132.50" y2="349.20" stroke="#8a8a8a" stroke-width="1"/>
<line x1="443.00" y1="349.20" x2="439.50" y2="349.20" stroke="#8a8a8a" stroke-width="1"/>
<line x1="129.00" y1="376.20" x2="132.50" y2="376.20" stroke="#8a8a8a" stroke-width="1"/>
<line x1="443.00" y1="376.20" x2="439.50" y2="376.20" stroke="#8a8a8a" stroke-width="1"/>
<line x1="129.00" y1="403.20" x2="132.50" y2="403.20" stroke="#8a8a8a" stroke-width="1"/>
<line x1="443.00" y1="403.20" x2="439.50" y2="403.20" stroke="#8a8a8a" stroke-width="1"/>
<g font-family="Liberation Sans, Arial, sans-serif" font-size="8.6" fill="#666" text-anchor="end">
<text transform="translate(125.2,317.4) scale(0.9,1)">-60</text>
<text transform="translate(125.2,300.0) scale(0.9,1)">-40</text>
<text transform="translate(125.2,282.6) scale(0.9,1)">-20</text>
<text transform="translate(125.2,265.2) scale(0.9,1)">0</text>
<text transform="translate(125.2,247.7) scale(0.9,1)">20</text>
<text transform="translate(125.2,230.3) scale(0.9,1)">40</text>
<text transform="translate(125.2,212.9) scale(0.9,1)">60</text>
<text transform="translate(125.2,195.5) scale(0.9,1)">80</text>
<text transform="translate(125.2,325.3) scale(0.9,1)">0</text>
<text transform="translate(125.2,352.3) scale(0.9,1)">-45</text>
<text transform="translate(125.2,379.3) scale(0.9,1)">-90</text>
<text transform="translate(125.2,406.3) scale(0.9,1)">-135</text>
<text transform="translate(125.2,433.3) scale(0.9,1)">-180</text>
</g>
<text transform="translate(281.8,173.3) scale(0.945,1)" font-family="Liberation Sans, Arial, sans-serif" font-size="8.4" fill="#1a1a1a" text-anchor="middle">Bode Diagram</text>
<text transform="translate(108.1,253.2) rotate(-90)" font-family="Liberation Sans, Arial, sans-serif" font-size="8.4" fill="#333" text-anchor="middle">Magnitude (dB)</text>
<text transform="translate(103.2,376.5) rotate(-90)" font-family="Liberation Sans, Arial, sans-serif" font-size="8.3" fill="#333" text-anchor="middle">Phase (deg)</text>
<g font-family="Liberation Serif, Times New Roman, serif" font-size="8.8" fill="#1a1a1a">
<text x="124.0" y="442.8">10<tspan font-size="6" dy="-2.3">−3</tspan></text>
<text x="161.7" y="442.8">10<tspan font-size="6" dy="-2.3">−2</tspan></text>
<text x="212.7" y="442.8">10<tspan font-size="6" dy="-2.3">−1</tspan></text>
<text x="256.4" y="442.8">10<tspan font-size="6" dy="-2.3">0</tspan></text>
<text x="302.0" y="442.8">10<tspan font-size="6" dy="-2.3">1</tspan></text>
<text x="347.6" y="442.8">10<tspan font-size="6" dy="-2.3">2</tspan></text>
<text x="394.7" y="442.8">10<tspan font-size="6" dy="-2.3">3</tspan></text>
<text x="438.8" y="442.8">10<tspan font-size="6" dy="-2.3">4</tspan></text>
</g>
<text x="280.8" y="457.6" font-family="Liberation Sans, Arial, sans-serif" font-size="8.4" fill="#333" text-anchor="middle">Frequency (rad/s)</text>
<polyline points="129.00,199.42 130.05,199.83 131.10,200.24 132.15,200.65 133.20,201.05 134.25,201.46 135.30,201.87 136.35,202.28 137.40,202.68 138.45,203.09 139.50,203.50 140.55,203.90 141.60,204.31 142.65,204.72 143.70,205.12 144.75,205.53 145.80,205.94 146.85,206.34 147.90,206.75 148.95,207.16 150.00,207.56 151.05,207.97 152.10,208.37 153.15,208.78 154.20,209.18 155.25,209.59 156.30,209.99 157.35,210.40 158.40,210.80 159.45,211.20 160.51,211.60 161.56,212.01 162.61,212.41 163.66,212.81 164.71,213.21 165.76,213.60 166.81,214.00 167.86,214.40 168.91,214.79 169.96,215.19 171.01,215.58 172.06,215.97 173.11,216.36 174.16,216.74 175.21,217.13 176.26,217.51 177.31,217.89 178.36,218.27 179.41,218.64 180.46,219.01 181.51,219.37 182.56,219.73 183.61,220.09 184.66,220.44 185.71,220.79 186.76,221.13 187.81,221.46 188.86,221.79 189.91,222.11 190.96,222.42 192.01,222.72 193.06,223.02 194.11,223.30 195.16,223.58 196.21,223.85 197.26,224.10 198.31,224.35 199.36,224.58 200.41,224.81 201.46,225.02 202.51,225.23 203.56,225.42 204.61,225.60 205.66,225.77 206.71,225.93 207.76,226.08 208.81,226.22 209.86,226.35 210.91,226.47 211.96,226.58 213.01,226.68 214.06,226.78 215.11,226.87 216.16,226.95 217.21,227.02 218.26,227.09 219.31,227.15 220.36,227.21 221.41,227.26 222.46,227.31 223.52,227.35 224.57,227.39 225.62,227.42 226.67,227.45 227.72,227.48 228.77,227.51 229.82,227.53 230.87,227.56 231.92,227.58 232.97,227.60 234.02,227.61 235.07,227.63 236.12,227.64 237.17,227.66 238.22,227.67 239.27,227.68 240.32,227.69 241.37,227.71 242.42,227.72 243.47,227.73 244.52,227.74 245.57,227.75 246.62,227.76 247.67,227.77 248.72,227.79 249.77,227.80 250.82,227.81 251.87,227.83 252.92,227.84 253.97,227.86 255.02,227.87 256.07,227.89 257.12,227.92 258.17,227.94 259.22,227.96 260.27,227.99 261.32,228.02 262.37,228.06 263.42,228.10 264.47,228.14 265.52,228.18 266.57,228.23 267.62,228.29 268.67,228.35 269.72,228.42 270.77,228.49 271.82,228.57 272.87,228.66 273.92,228.76 274.97,228.86 276.02,228.98 277.07,229.11 278.12,229.24 279.17,229.40 280.22,229.56 281.27,229.74 282.32,229.93 283.37,230.13 284.42,230.36 285.47,230.60 286.53,230.85 287.58,231.13 288.63,231.42 289.68,231.73 290.73,232.06 291.78,232.41 292.83,232.78 293.88,233.17 294.93,233.57 295.98,234.00 297.03,234.45 298.08,234.92 299.13,235.40 300.18,235.91 301.23,236.44 302.28,236.98 303.33,237.54 304.38,238.12 305.43,238.71 306.48,239.32 307.53,239.94 308.58,240.58 309.63,241.23 310.68,241.90 311.73,242.58 312.78,243.26 313.83,243.96 314.88,244.67 315.93,245.39 316.98,246.11 318.03,246.84 319.08,247.58 320.13,248.33 321.18,249.08 322.23,249.84 323.28,250.60 324.33,251.37 325.38,252.14 326.43,252.91 327.48,253.68 328.53,254.46 329.58,255.24 330.63,256.02 331.68,256.81 332.73,257.59 333.78,258.38 334.83,259.16 335.88,259.94 336.93,260.73 337.98,261.51 339.03,262.30 340.08,263.08 341.13,263.86 342.18,264.64 343.23,265.41 344.28,266.18 345.33,266.95 346.38,267.72 347.43,268.48 348.48,269.24 349.54,269.99 350.59,270.74 351.64,271.48 352.69,272.22 353.74,272.95 354.79,273.67 355.84,274.38 356.89,275.09 357.94,275.79 358.99,276.47 360.04,277.15 361.09,277.82 362.14,278.48 363.19,279.13 364.24,279.77 365.29,280.40 366.34,281.01 367.39,281.62 368.44,282.21 369.49,282.80 370.54,283.37 371.59,283.93 372.64,284.49 373.69,285.03 374.74,285.56 375.79,286.09 376.84,286.60 377.89,287.11 378.94,287.61 379.99,288.10 381.04,288.58 382.09,289.06 383.14,289.53 384.19,290.00 385.24,290.46 386.29,290.92 387.34,291.37 388.39,291.82 389.44,292.26 390.49,292.70 391.54,293.14 392.59,293.58 393.64,294.01 394.69,294.44 395.74,294.87 396.79,295.29 397.84,295.72 398.89,296.14 399.94,296.56 400.99,296.98 402.04,297.40 403.09,297.81 404.14,298.23 405.19,298.65 406.24,299.06 407.29,299.48 408.34,299.89 409.39,300.30 410.44,300.71 411.49,301.13 412.55,301.54 413.60,301.95 414.65,302.36 415.70,302.77 416.75,303.18 417.80,303.59 418.85,304.00 419.90,304.41 420.95,304.82 422.00,305.23 423.05,305.64 424.10,306.04 425.15,306.45 426.20,306.86 427.25,307.27 428.30,307.68 429.35,308.09 430.40,308.50 431.45,308.90 432.50,309.31 433.55,309.72 434.60,310.13 435.65,310.54 436.70,310.94 437.75,311.35 438.80,311.76 439.85,312.17 440.90,312.58 441.95,312.98 443.00,313.39" fill="none" stroke="#5250d2" stroke-width="1.05"/>
<polyline points="129.00,375.40 130.05,375.36 131.10,375.31 132.15,375.26 133.20,375.21 134.25,375.15 135.30,375.10 136.35,375.03 137.40,374.97 138.45,374.90 139.50,374.83 140.55,374.75 141.60,374.67 142.65,374.59 143.70,374.50 144.75,374.41 145.80,374.31 146.85,374.20 147.90,374.09 148.95,373.98 150.00,373.85 151.05,373.72 152.10,373.59 153.15,373.44 154.20,373.29 155.25,373.13 156.30,372.96 157.35,372.78 158.40,372.60 159.45,372.40 160.51,372.19 161.56,371.97 162.61,371.74 163.66,371.49 164.71,371.24 165.76,370.97 166.81,370.68 167.86,370.38 168.91,370.07 169.96,369.74 171.01,369.39 172.06,369.02 173.11,368.64 174.16,368.23 175.21,367.81 176.26,367.37 177.31,366.90 178.36,366.41 179.41,365.90 180.46,365.37 181.51,364.82 182.56,364.24 183.61,363.63 184.66,363.01 185.71,362.36 186.76,361.68 187.81,360.98 188.86,360.26 189.91,359.51 190.96,358.74 192.01,357.96 193.06,357.15 194.11,356.32 195.16,355.48 196.21,354.62 197.26,353.75 198.31,352.87 199.36,351.99 200.41,351.10 201.46,350.20 202.51,349.31 203.56,348.42 204.61,347.54 205.66,346.66 206.71,345.80 207.76,344.95 208.81,344.12 209.86,343.31 210.91,342.51 211.96,341.74 213.01,340.99 214.06,340.27 215.11,339.58 216.16,338.91 217.21,338.27 218.26,337.65 219.31,337.07 220.36,336.52 221.41,336.00 222.46,335.50 223.52,335.04 224.57,334.60 225.62,334.19 226.67,333.82 227.72,333.47 228.77,333.15 229.82,332.86 230.87,332.59 231.92,332.35 232.97,332.14 234.02,331.96 235.07,331.80 236.12,331.67 237.17,331.57 238.22,331.49 239.27,331.43 240.32,331.41 241.37,331.41 242.42,331.43 243.47,331.48 244.52,331.56 245.57,331.66 246.62,331.79 247.67,331.95 248.72,332.13 249.77,332.35 250.82,332.59 251.87,332.86 252.92,333.16 253.97,333.49 255.02,333.85 256.07,334.25 257.12,334.67 258.17,335.13 259.22,335.63 260.27,336.16 261.32,336.73 262.37,337.33 263.42,337.98 264.47,338.66 265.52,339.39 266.57,340.15 267.62,340.96 268.67,341.82 269.72,342.71 270.77,343.66 271.82,344.65 272.87,345.68 273.92,346.77 274.97,347.90 276.02,349.07 277.07,350.29 278.12,351.56 279.17,352.88 280.22,354.24 281.27,355.64 282.32,357.08 283.37,358.56 284.42,360.08 285.47,361.63 286.53,363.22 287.58,364.83 288.63,366.46 289.68,368.12 290.73,369.79 291.78,371.48 292.83,373.18 293.88,374.88 294.93,376.58 295.98,378.28 297.03,379.97 298.08,381.64 299.13,383.30 300.18,384.94 301.23,386.55 302.28,388.14 303.33,389.69 304.38,391.21 305.43,392.69 306.48,394.13 307.53,395.53 308.58,396.88 309.63,398.19 310.68,399.44 311.73,400.65 312.78,401.81 313.83,402.91 314.88,403.96 315.93,404.96 316.98,405.91 318.03,406.81 319.08,407.65 320.13,408.45 321.18,409.19 322.23,409.88 323.28,410.53 324.33,411.12 325.38,411.67 326.43,412.17 327.48,412.62 328.53,413.03 329.58,413.39 330.63,413.70 331.68,413.97 332.73,414.20 333.78,414.39 334.83,414.53 335.88,414.63 336.93,414.69 337.98,414.71 339.03,414.68 340.08,414.62 341.13,414.51 342.18,414.37 343.23,414.18 344.28,413.96 345.33,413.69 346.38,413.39 347.43,413.05 348.48,412.67 349.54,412.25 350.59,411.80 351.64,411.30 352.69,410.78 353.74,410.22 354.79,409.62 355.84,409.00 356.89,408.34 357.94,407.66 358.99,406.94 360.04,406.21 361.09,405.45 362.14,404.67 363.19,403.88 364.24,403.07 365.29,402.25 366.34,401.43 367.39,400.59 368.44,399.76 369.49,398.92 370.54,398.09 371.59,397.27 372.64,396.45 373.69,395.65 374.74,394.86 375.79,394.08 376.84,393.32 377.89,392.58 378.94,391.86 379.99,391.16 381.04,390.48 382.09,389.82 383.14,389.19 384.19,388.57 385.24,387.98 386.29,387.42 387.34,386.87 388.39,386.35 389.44,385.85 390.49,385.37 391.54,384.92 392.59,384.48 393.64,384.06 394.69,383.67 395.74,383.29 396.79,382.93 397.84,382.58 398.89,382.26 399.94,381.95 400.99,381.65 402.04,381.37 403.09,381.10 404.14,380.85 405.19,380.61 406.24,380.38 407.29,380.16 408.34,379.96 409.39,379.76 410.44,379.58 411.49,379.40 412.55,379.23 413.60,379.08 414.65,378.93 415.70,378.78 416.75,378.65 417.80,378.52 418.85,378.40 419.90,378.28 420.95,378.17 422.00,378.07 423.05,377.97 424.10,377.88 425.15,377.79 426.20,377.71 427.25,377.63 428.30,377.55 429.35,377.48 430.40,377.42 431.45,377.35 432.50,377.29 433.55,377.24 434.60,377.18 435.65,377.13 436.70,377.08 437.75,377.03 438.80,376.99 439.85,376.95 440.90,376.91 441.95,376.87 443.00,376.84" fill="none" stroke="#5250d2" stroke-width="1.05"/>
<text x="140.4" y="161.2" font-family="Liberation Serif, Times New Roman, serif" font-size="12" fill="#111" text-anchor="middle" letter-spacing="0.35">(<tspan font-weight="bold">a</tspan>)</text>
<text x="419.8" y="161.3" font-family="Liberation Serif, Times New Roman, serif" font-size="12" fill="#111" text-anchor="middle" letter-spacing="0.35">(<tspan font-weight="bold">b</tspan>)</text>
<text x="275.3" y="473.7" font-family="Liberation Serif, Times New Roman, serif" font-size="12" fill="#111" text-anchor="middle" letter-spacing="0.35">(<tspan font-weight="bold">c</tspan>)</text>
</svg>
</body></html>
